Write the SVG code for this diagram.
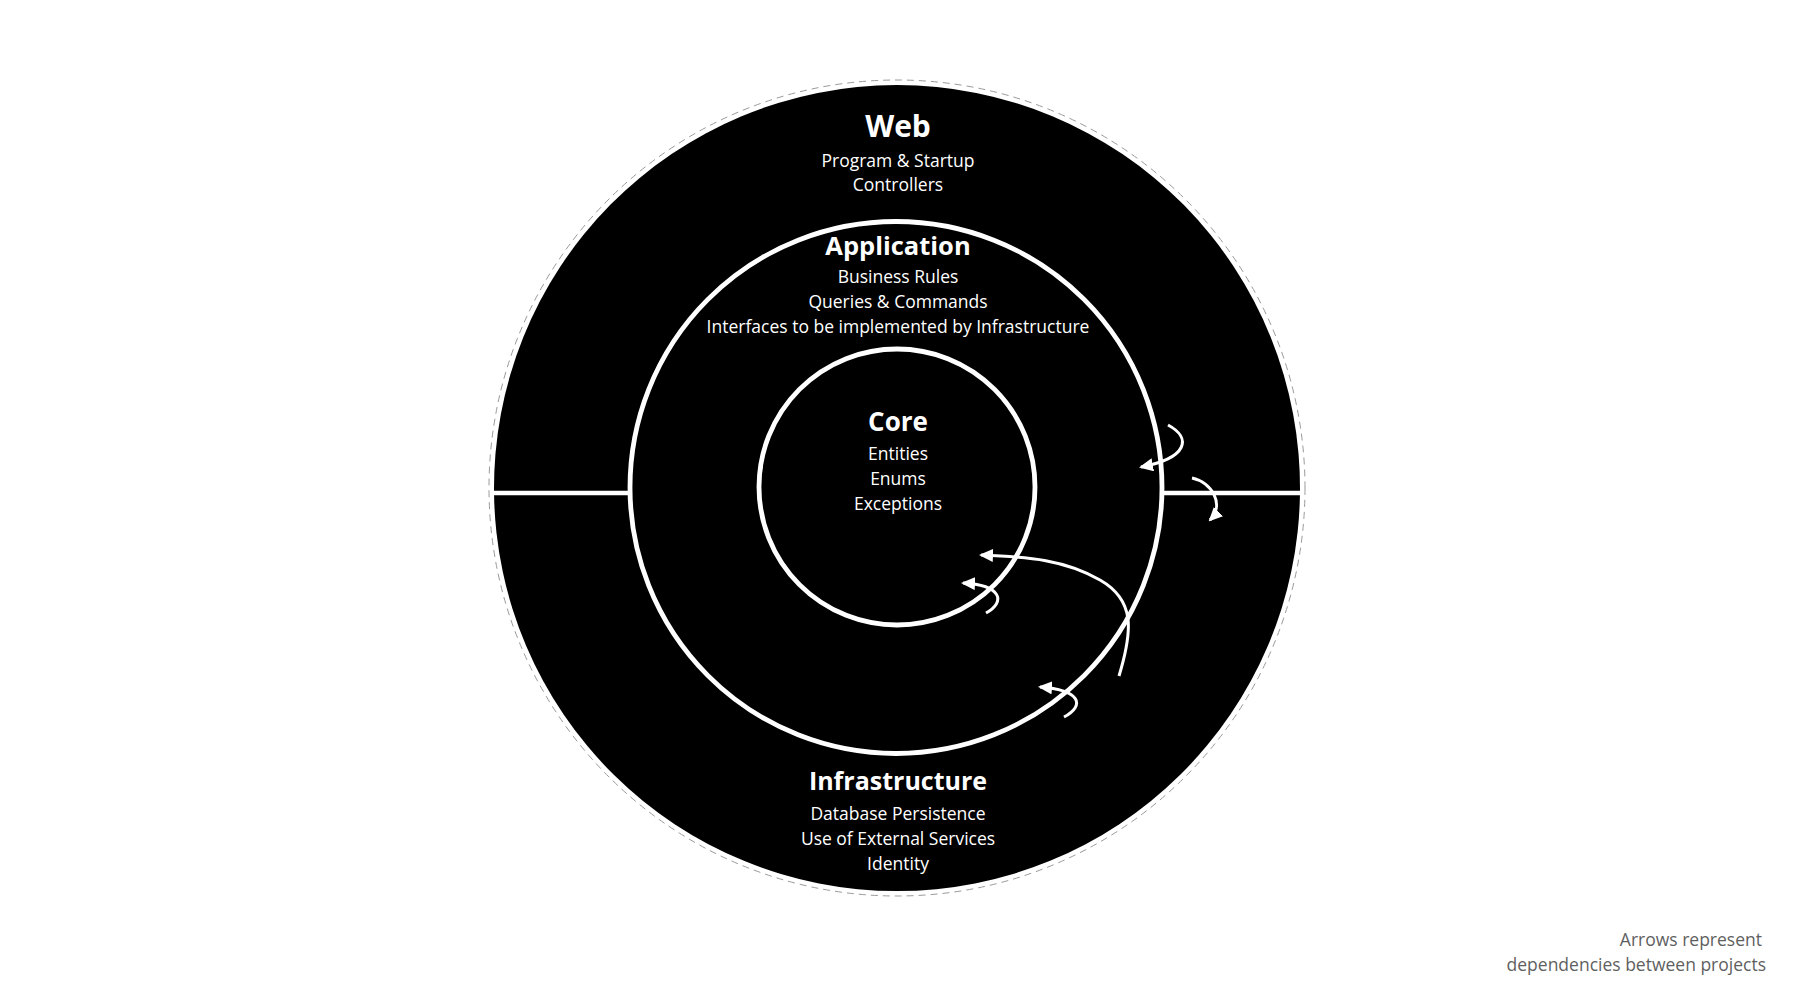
<svg xmlns="http://www.w3.org/2000/svg" width="1800" height="1000" viewBox="0 0 1800 1000">
<style>
.title{font-family:"Open Sans","Noto Sans",sans-serif;font-weight:700;fill:#fff;text-anchor:middle}
.body{font-family:"Open Sans","Noto Sans",sans-serif;font-size:17.5px;fill:#fff;text-anchor:middle}
.ring{fill:none;stroke:#fff;stroke-width:4.8}
.half{fill:#000}
.divider{stroke:#fff;stroke-width:4.6}
.dep{fill:none;stroke:#fff;stroke-width:3;stroke-linecap:butt}
.note{font-family:"Open Sans","Noto Sans",sans-serif;font-size:17.5px;fill:#5f5f5f;text-anchor:end}
</style>
<defs>
<marker id="ah" markerUnits="userSpaceOnUse" markerWidth="14" markerHeight="13" viewBox="0 0 14 13" refX="12" refY="6.5" orient="auto">
<path d="M0,0 L14,6.5 L0,13 Z" fill="#fff"/>
</marker>
</defs>
<rect width="1800" height="1000" fill="#fff"/>
<circle cx="897" cy="488" r="408" fill="none" stroke="#9a9a9a" stroke-width="1" stroke-dasharray="7 5"/>
<g id="web">
<path class="half" d="M494.03,493 A403,403 0 1 1 1299.97,493 Z"/>
<text class="title" x="898" y="137" font-size="30">Web</text>
<text class="body" x="898" y="167">Program &amp; Startup</text>
<text class="body" x="898" y="191">Controllers</text>
</g>
<g id="infrastructure">
<path class="half" d="M1299.97,493 A403,403 0 0 1 494.03,493 Z"/>
<text class="title" x="898" y="790" font-size="25">Infrastructure</text>
<text class="body" x="898" y="820">Database Persistence</text>
<text class="body" x="898" y="845">Use of External Services</text>
<text class="body" x="898" y="870">Identity</text>
</g>
<g id="dividers">
<line class="divider" x1="494" y1="493" x2="632" y2="493"/>
<line class="divider" x1="1160" y1="493" x2="1300" y2="493"/>
</g>
<g id="application">
<circle class="ring" cx="896" cy="487.5" r="266"/>
<text class="title" x="898" y="255" font-size="25.5">Application</text>
<text class="body" x="898" y="283">Business Rules</text>
<text class="body" x="898" y="308">Queries &amp; Commands</text>
<text class="body" x="898" y="333">Interfaces to be implemented by Infrastructure</text>
</g>
<g id="core">
<circle class="ring" cx="897" cy="487" r="138"/>
<text class="title" x="898" y="430.5" font-size="26">Core</text>
<text class="body" x="898" y="459.5">Entities</text>
<text class="body" x="898" y="484.5">Enums</text>
<text class="body" x="898" y="509.5">Exceptions</text>
</g>
<g id="connectors">
<path class="dep" marker-end="url(#ah)" d="M1168,425 C1192,438 1188,458 1141,467"/>
<path class="dep" marker-end="url(#ah)" d="M1192,478 C1212,482 1225,505 1210,520"/>
<path class="dep" marker-end="url(#ah)" d="M1119,676 C1133,630 1135,600 1100,580 C1065,560 1030,557 981,555"/>
<path class="dep" marker-end="url(#ah)" d="M986,613 C1006,602 1002,585 963,583"/>
<path class="dep" marker-end="url(#ah)" d="M1064,717 C1086,705 1080,690 1040,687"/>
</g>
<g id="legend">
<text class="note" x="1762" y="946">Arrows represent</text>
<text class="note" x="1766" y="971">dependencies between projects</text>
</g>
</svg>
